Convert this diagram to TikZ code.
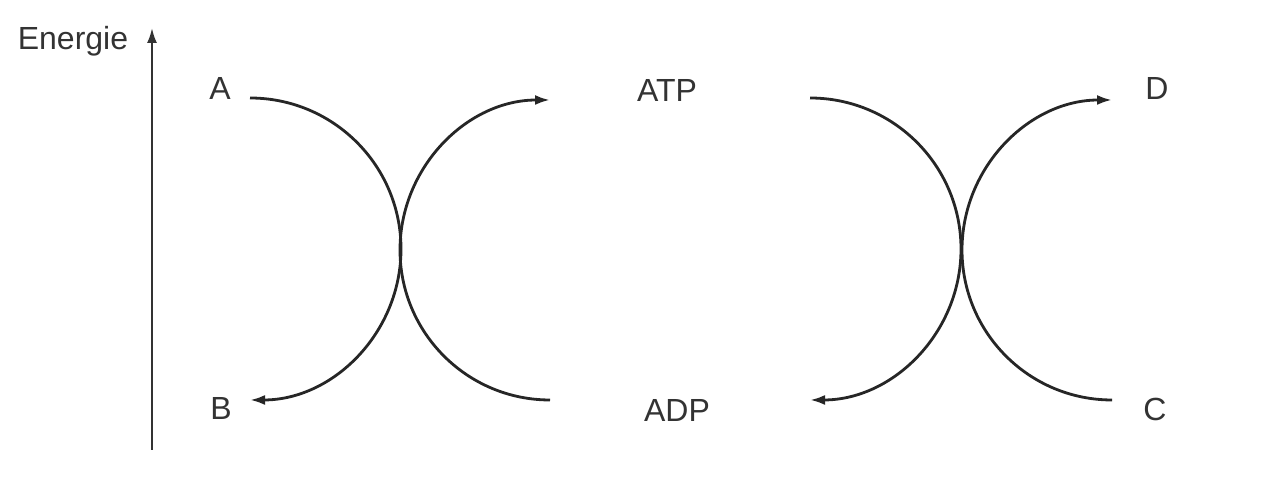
\documentclass[tikz,border=0pt]{standalone}
\usepackage{fontspec}
\setmainfont{Liberation Sans}
\usetikzlibrary{arrows.meta}
\begin{document}
\begin{tikzpicture}[x=0.5pt,y=0.5pt,
  lbl/.style={inner sep=0pt,anchor=base,font=\fontsize{16}{19}\selectfont,text=black!80},
  curve/.style={line width=1.4pt,black!85},
  tip/.style={-{Latex[length=7.5pt,width=5pt]}}]
\useasboundingbox (0,0) rectangle (1262,485);
% axis
\coordinate (ax0) at (152,35);
\coordinate (ax1) at (152,457);
\draw[line width=1.1pt,black!80,tip] (ax0) -- (ax1);
\node[lbl] (energie) at (73,435) {Energie};
% labels
\node[lbl] (A) at (220,385) {A};
\node[lbl] (B) at (221,65) {B};
\node[lbl] (ATP) at (667,383) {ATP};
\node[lbl] (ADP) at (677,63) {ADP};
\node[lbl] (D) at (1157,385) {D};
\node[lbl] (C) at (1155,64) {C};
% arc start points
\coordinate (s1) at (250,387);
\coordinate (s2) at (550,85);
\coordinate (s3) at (810,387);
\coordinate (s4) at (1112,85);
\draw[curve,tip] (s1) arc[start angle=90,end angle=-90,radius=151];
\draw[curve,tip] (s2) arc[start angle=270,end angle=90,radius=150];
\draw[curve,tip] (s3) arc[start angle=90,end angle=-90,radius=151];
\draw[curve,tip] (s4) arc[start angle=270,end angle=90,radius=150];
\end{tikzpicture}
\end{document}
